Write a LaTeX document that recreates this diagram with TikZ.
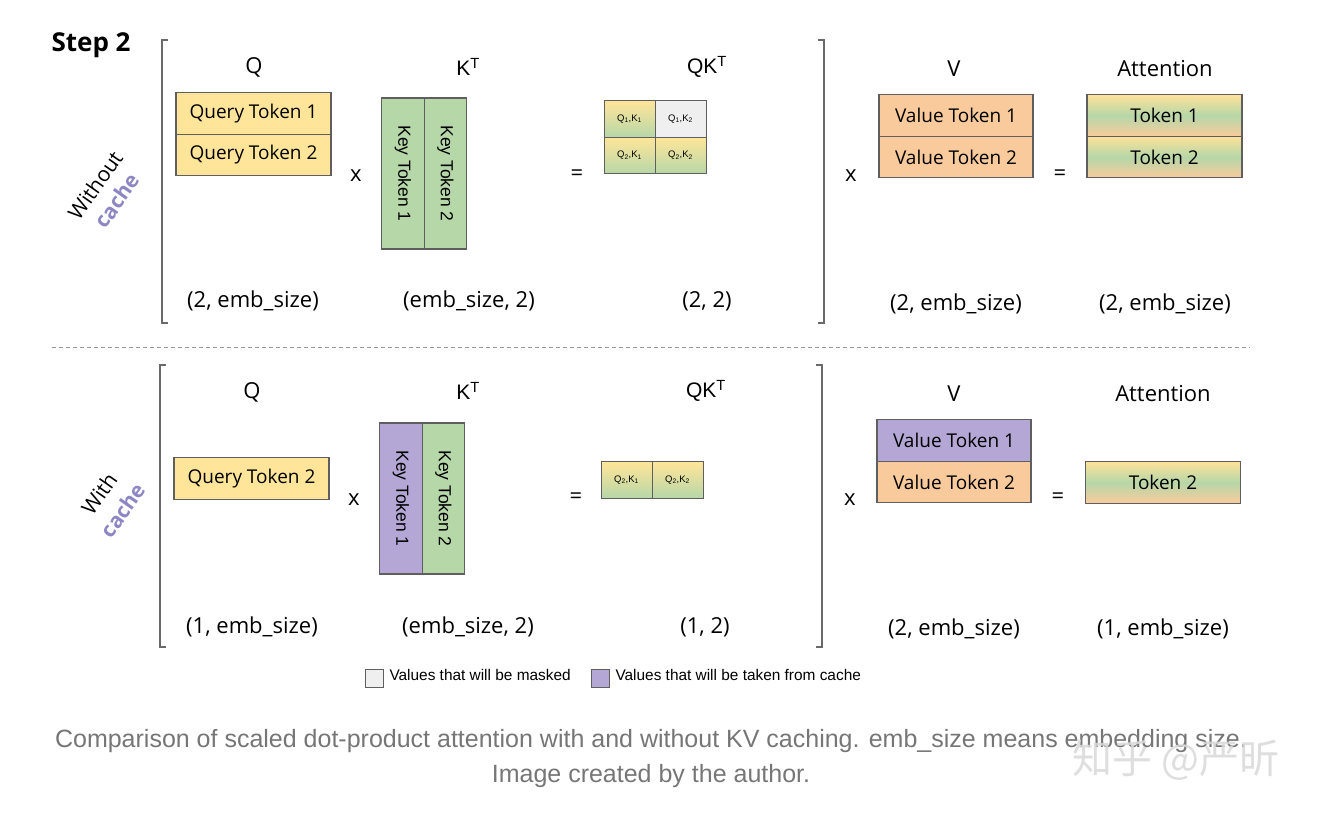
\documentclass[tikz,border=0pt]{standalone}
\usepackage{fontspec}
\setmainfont{Open Sans}
\newfontfamily\arialf{Liberation Sans}
\newfontfamily\cjkf{Noto Sans CJK SC}
\newcommand\fsz[2]{\fontsize{#1}{#2}\selectfont}
\definecolor{qyellow}{HTML}{FFE599}
\definecolor{kgreen}{HTML}{B6D7A8}
\definecolor{vorange}{HTML}{F9CB9C}
\definecolor{cpurple}{HTML}{B4A7D6}
\definecolor{mgray}{HTML}{EFEFEF}
\definecolor{bline}{HTML}{5F5F5F}
\definecolor{brkgray}{HTML}{6A6A6A}
\definecolor{cachepurple}{HTML}{8E86C4}
\definecolor{capgray}{HTML}{767676}
\begin{document}
\begin{tikzpicture}[x=1pt,y=-1pt,
  box/.style={draw=bline, line width=1.2pt, inner sep=0pt, font=\fsz{19}{22}, text=black},
  qbox/.style={box, fill=qyellow, minimum width=155pt, minimum height=41.5pt},
  vbox/.style={box, fill=vorange, minimum width=154pt, minimum height=41.5pt},
  vpbox/.style={box, fill=cpurple, minimum width=154pt, minimum height=41.5pt},
  attbox/.style={box, top color=qyellow!85!vorange, bottom color=vorange, middle color=kgreen, minimum width=155pt, minimum height=41.5pt},
  keybox/.style={box, fill=kgreen, rotate=-90, minimum width=151pt, minimum height=42.5pt, font=\arialf\fsz{17.5}{20}},
  keypbox/.style={keybox, fill=cpurple},
  qkcell/.style={box, line width=1pt, top color=qyellow, bottom color=kgreen, minimum width=51pt, minimum height=36.5pt, font=\arialf\fsz{9.5}{10}},
  qkgray/.style={qkcell, fill=mgray, top color=mgray, bottom color=mgray},
  lab/.style={font=\fsz{22}{25}},
  alab/.style={font=\arialf\fsz{21}{24}},
  op/.style={font=\fsz{22}{25}},
  dim/.style={font=\fsz{22}{25}},
  brk/.style={draw=brkgray, line width=2.5pt},
  side/.style={rotate=55, align=center, inner sep=0pt},
  legsq/.style={draw=bline, line width=1pt, minimum size=18pt, inner sep=0pt},
  legtx/.style={font=\arialf\fsz{15.4}{17}, anchor=west},
  captx/.style={font=\arialf\fsz{25}{29}, text=capgray}
]
\useasboundingbox[fill=white] (0,0) rectangle (1326,814);

% ---------- Step 2 ----------
\node[font=\bfseries\fsz{26}{30}, anchor=west] (step) at (48,45) {Step 2};

% ---------- top: without cache ----------
\draw[brk] (168,40) -- (162,40) -- (162,323) -- (168,323);
\draw[brk] (818,40) -- (824,40) -- (824,323) -- (818,323);
\node[side, font=\fsz{21}{26.5}] (wo) at (106,193) {Without\\{\bfseries\color{cachepurple}cache}};

\node[lab] (tQ) at (254,67) {Q};
\node[qbox] (tq1) at (253.5,113.5) {Query Token 1};
\node[qbox] (tq2) at (253.5,155) {Query Token 2};
\node[op] (tx1) at (356,176) {x};
\node[alab] (tK) at (468,67) {K\textsuperscript{T}};
\node[keybox] (tk1) at (403,173.5) {Key Token 1};
\node[keybox] (tk2) at (445.5,173.5) {Key Token 2};
\node[op] (teq1) at (577,175) {=};
\node[alab] (tQK) at (707,67) {QK\textsuperscript{T}};
\node[qkcell] (tc11) at (629.5,119) {Q\textsubscript{1},K\textsubscript{1}};
\node[qkgray] (tc12) at (680.5,119) {Q\textsubscript{1},K\textsubscript{2}};
\node[qkcell] (tc21) at (629.5,155.5) {Q\textsubscript{2},K\textsubscript{1}};
\node[qkcell] (tc22) at (680.5,155.5) {Q\textsubscript{2},K\textsubscript{2}};
\node[dim] (td1) at (253,301) {(2, emb\_size)};
\node[dim] (td2) at (469,301) {(emb\_size, 2)};
\node[dim] (td3) at (707,301) {(2, 2)};

\node[op] (tx2) at (851,176) {x};
\node[lab] (tV) at (954,69) {V};
\node[vbox] (tv1) at (956,115.5) {Value Token 1};
\node[vbox] (tv2) at (956,157) {Value Token 2};
\node[op] (teq2) at (1060,175) {=};
\node[lab] (tA) at (1165,69) {Attention};
\node[attbox] (ta1) at (1164.5,115.5) {Token 1};
\node[attbox] (ta2) at (1164.5,157) {Token 2};
\node[dim] (td4) at (956,304) {(2, emb\_size)};
\node[dim] (td5) at (1165,304) {(2, emb\_size)};

% ---------- divider ----------
\draw[draw=gray!80, line width=1pt, dash pattern=on 4pt off 3pt] (52,347) -- (1250,347);

% ---------- bottom: with cache ----------
\draw[brk] (166,365) -- (160,365) -- (160,647) -- (166,647);
\draw[brk] (816,365) -- (822,365) -- (822,647) -- (816,647);
\node[side, font=\fsz{21}{29}] (wi) at (111,502) {With\\{\bfseries\color{cachepurple}cache}};

\node[lab] (bQ) at (252,392) {Q};
\node[qbox] (bq2) at (251.5,478.5) {Query Token 2};
\node[op] (bx1) at (354,500) {x};
\node[alab] (bK) at (468,391) {K\textsuperscript{T}};
\node[keypbox] (bk1) at (401,498.5) {Key Token 1};
\node[keybox] (bk2) at (443.5,498.5) {Key Token 2};
\node[op] (beq1) at (576,498) {=};
\node[alab] (bQK) at (706,391) {QK\textsuperscript{T}};
\node[qkcell] (bc21) at (626.5,480) {Q\textsubscript{2},K\textsubscript{1}};
\node[qkcell] (bc22) at (677.5,480) {Q\textsubscript{2},K\textsubscript{2}};
\node[dim] (bd1) at (252,627) {(1, emb\_size)};
\node[dim] (bd2) at (468,627) {(emb\_size, 2)};
\node[dim] (bd3) at (705,627) {(1, 2)};

\node[op] (bx2) at (850,500) {x};
\node[lab] (bV) at (954,394) {V};
\node[vpbox] (bv1) at (954,440.5) {Value Token 1};
\node[vbox] (bv2) at (954,482) {Value Token 2};
\node[op] (beq2) at (1058,498) {=};
\node[lab] (bA) at (1163,394) {Attention};
\node[attbox] (ba2) at (1163,482.5) {Token 2};
\node[dim] (bd4) at (954,629) {(2, emb\_size)};
\node[dim] (bd5) at (1163,629) {(1, emb\_size)};

% ---------- legend ----------
\node[legsq, fill=mgray] (lg1) at (374,678) {};
\node[legtx] (lt1) at (386,675) {Values that will be masked};
\node[legsq, fill=cpurple] (lg2) at (600,678) {};
\node[legtx] (lt2) at (612,675) {Values that will be taken from cache};

% ---------- caption ----------
\node[captx] (cap1) at (651,741) {Comparison of scaled dot-product attention with and without KV caching. emb\_size means embedding size.};
\node[captx] (cap2) at (651,776) {Image created by the author.};
\node[font=\cjkf\fsz{40}{44}, text=gray!30, opacity=0.85] (wm) at (1176,760) {知乎 @严昕};
\end{tikzpicture}
\end{document}
